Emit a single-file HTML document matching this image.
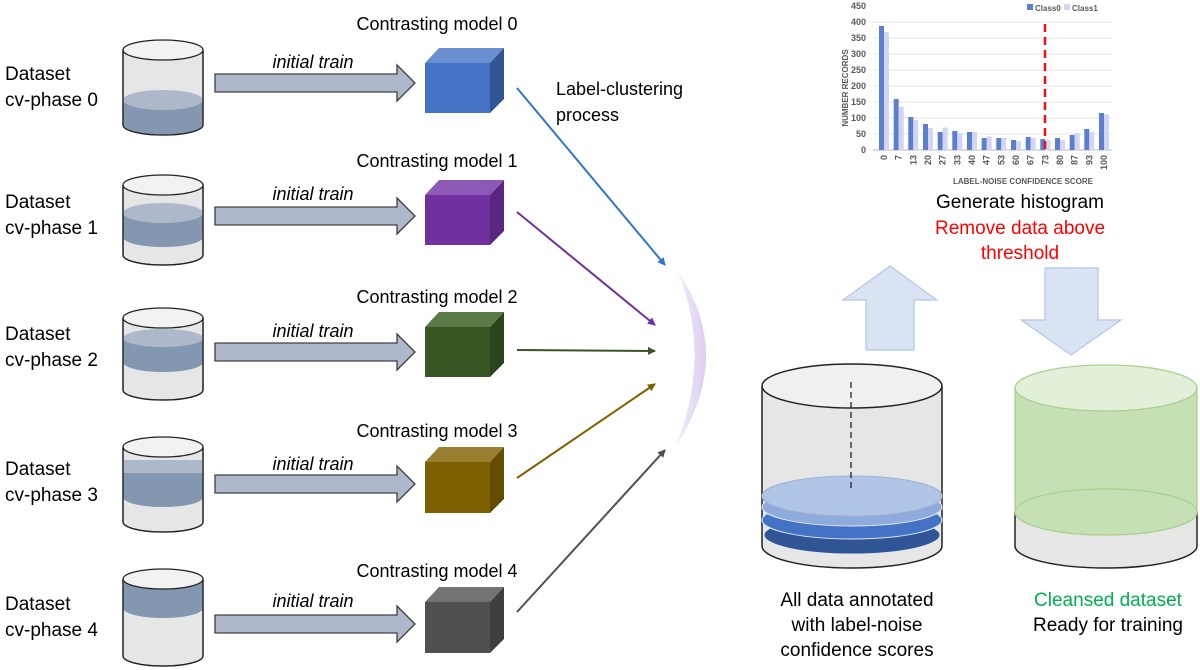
<!DOCTYPE html>
<html><head><meta charset="utf-8"><style>
body{margin:0;background:#fff}
svg{display:block;font-family:"Liberation Sans",Arial,sans-serif}
</style></head><body>
<svg width="1200" height="670" viewBox="0 0 1200 670" xmlns="http://www.w3.org/2000/svg">
<defs>
<marker id="mb" markerWidth="8" markerHeight="8" refX="7" refY="4" orient="auto" markerUnits="userSpaceOnUse"><path d="M0,0 L8,4 L0,8 z" fill="#2e75d0"/></marker>
<marker id="mp" markerWidth="8" markerHeight="8" refX="7" refY="4" orient="auto" markerUnits="userSpaceOnUse"><path d="M0,0 L8,4 L0,8 z" fill="#7030a0"/></marker>
<marker id="mg" markerWidth="8" markerHeight="8" refX="7" refY="4" orient="auto" markerUnits="userSpaceOnUse"><path d="M0,0 L8,4 L0,8 z" fill="#375623"/></marker>
<marker id="mo" markerWidth="8" markerHeight="8" refX="7" refY="4" orient="auto" markerUnits="userSpaceOnUse"><path d="M0,0 L8,4 L0,8 z" fill="#7f6000"/></marker>
<marker id="mk" markerWidth="8" markerHeight="8" refX="7" refY="4" orient="auto" markerUnits="userSpaceOnUse"><path d="M0,0 L8,4 L0,8 z" fill="#505050"/></marker>
<linearGradient id="cres" x1="0" y1="0" x2="1" y2="0"><stop offset="0" stop-color="#f3eefa"/><stop offset="1" stop-color="#dccdf0"/></linearGradient>
</defs>

<g font-size="19" fill="#000">
<text x="5" y="80">Dataset</text><text x="5" y="106">cv-phase 0</text>
<text x="5" y="208">Dataset</text><text x="5" y="234">cv-phase 1</text>
<text x="5" y="340">Dataset</text><text x="5" y="366">cv-phase 2</text>
<text x="5" y="475">Dataset</text><text x="5" y="501">cv-phase 3</text>
<text x="5" y="610">Dataset</text><text x="5" y="636">cv-phase 4</text>
</g>

<g stroke="#222" stroke-width="1.3">
<path d="M123,50 V125 A40,10 0 0 0 203,125 V50" fill="#e6e6e6"/>
<path d="M123,100 V125 A40,10 0 0 0 203,125 V100 z" fill="#8497b0" stroke="none"/>
<ellipse cx="163" cy="100" rx="40" ry="10" fill="#adb9ca" stroke="none"/>
<path d="M123,50 V125 A40,10 0 0 0 203,125 V50" fill="none"/>
<ellipse cx="163" cy="50" rx="40" ry="10" fill="#f2f2f2"/>

<path d="M123,185 V255 A40,10 0 0 0 203,255 V185" fill="#e6e6e6"/>
<path d="M123,213 V237 A40,10 0 0 0 203,237 V213 z" fill="#8497b0" stroke="none"/>
<ellipse cx="163" cy="213" rx="40" ry="10" fill="#adb9ca" stroke="none"/>
<path d="M123,185 V255 A40,10 0 0 0 203,255 V185" fill="none"/>
<ellipse cx="163" cy="185" rx="40" ry="10" fill="#f2f2f2"/>

<path d="M123,318 V390 A40,10 0 0 0 203,390 V318" fill="#e6e6e6"/>
<path d="M123,340 V362 A40,10 0 0 0 203,362 V340 z" fill="#8497b0" stroke="none"/>
<ellipse cx="163" cy="338" rx="40" ry="9" fill="#adb9ca" stroke="none"/>
<path d="M123,318 V390 A40,10 0 0 0 203,390 V318" fill="none"/>
<ellipse cx="163" cy="318" rx="40" ry="10" fill="#f2f2f2"/>

<path d="M123,447 V522 A40,10 0 0 0 203,522 V447" fill="#e6e6e6"/>
<path d="M123,460 V497 A40,10 0 0 0 203,497 V460 z" fill="#adb9ca" stroke="none"/>
<path d="M123,473 V497 A40,10 0 0 0 203,497 V473 z" fill="#8497b0" stroke="none"/>
<path d="M123,447 V522 A40,10 0 0 0 203,522 V447" fill="none"/>
<ellipse cx="163" cy="447" rx="40" ry="10" fill="#f2f2f2"/>

<path d="M123,579 V656 A40,10 0 0 0 203,656 V579" fill="#e6e6e6"/>
<path d="M123,582 V608 A40,10 0 0 0 203,608 V582 z" fill="#8497b0" stroke="none"/>
<path d="M123,579 V656 A40,10 0 0 0 203,656 V579" fill="none"/>
<ellipse cx="163" cy="579" rx="40" ry="10" fill="#f2f2f2"/>
</g>

<g fill="#adb9ca" stroke="#404040" stroke-width="1.3">
<path d="M215,74 H397 V65 L415,83 L397,101 V92 H215 z"/>
<path d="M215,207 H397 V198 L415,216 L397,234 V225 H215 z"/>
<path d="M215,343 H397 V334 L415,352 L397,370 V361 H215 z"/>
<path d="M215,475 H397 V466 L415,484 L397,502 V493 H215 z"/>
<path d="M215,615 H397 V606 L415,624 L397,642 V633 H215 z"/>
</g>
<g font-size="18" font-style="italic" text-anchor="middle">
<text x="313" y="68">initial train</text>
<text x="313" y="200">initial train</text>
<text x="313" y="337">initial train</text>
<text x="313" y="470">initial train</text>
<text x="313" y="607">initial train</text>
</g>

<g font-size="18" text-anchor="middle">
<text x="437" y="30">Contrasting model 0</text>
<text x="437" y="167">Contrasting model 1</text>
<text x="437" y="303">Contrasting model 2</text>
<text x="437" y="437">Contrasting model 3</text>
<text x="437" y="577">Contrasting model 4</text>
</g>

<g>
<rect x="425" y="63" width="65" height="50" fill="#4472c4"/><path d="M425,63 L439,48 H504 L490,63 z" fill="#6a8fd0"/><path d="M490,63 L504,48 V99 L490,113 z" fill="#2f5597"/>
<rect x="425" y="195" width="65" height="50" fill="#7030a0"/><path d="M425,195 L439,180 H504 L490,195 z" fill="#8c5ab4"/><path d="M490,195 L504,180 V231 L490,245 z" fill="#592680"/>
<rect x="425" y="327" width="65" height="50" fill="#375623"/><path d="M425,327 L439,312 H504 L490,327 z" fill="#5a7a48"/><path d="M490,327 L504,312 V363 L490,377 z" fill="#2b441b"/>
<rect x="425" y="462" width="65" height="51" fill="#7f6000"/><path d="M425,462 L439,447 H504 L490,462 z" fill="#9a7f30"/><path d="M490,462 L504,447 V499 L490,513 z" fill="#634b00"/>
<rect x="425" y="602" width="65" height="51" fill="#505050"/><path d="M425,602 L439,587 H504 L490,602 z" fill="#737373"/><path d="M490,602 L504,587 V639 L490,653 z" fill="#3f3f3f"/>
</g>

<g stroke-width="2" fill="none">
<line x1="517" y1="88" x2="665" y2="265" stroke="#2e75d0" marker-end="url(#mb)"/>
<line x1="517" y1="212" x2="655" y2="325" stroke="#7030a0" marker-end="url(#mp)"/>
<line x1="517" y1="350" x2="655" y2="351" stroke="#375623" marker-end="url(#mg)"/>
<line x1="517" y1="478" x2="655" y2="384" stroke="#7f6000" marker-end="url(#mo)"/>
<line x1="517" y1="612" x2="665" y2="450" stroke="#505050" marker-end="url(#mk)"/>
</g>
<path d="M678,272 Q735,355 676,446 Q712,355 678,272 z" fill="url(#cres)"/>
<text x="556" y="95" font-size="18">Label-clustering</text>
<text x="556" y="121" font-size="18">process</text>

<g font-size="9" font-weight="bold" fill="#595959" text-anchor="end">
<text x="866" y="153">0</text><text x="866" y="137">50</text><text x="866" y="121">100</text><text x="866" y="105">150</text><text x="866" y="89">200</text><text x="866" y="73">250</text><text x="866" y="57">300</text><text x="866" y="41">350</text><text x="866" y="25">400</text><text x="866" y="9">450</text>
</g>
<g stroke="#e4e4e4" stroke-width="1">
<line x1="873" y1="134" x2="1112" y2="134"/><line x1="873" y1="118" x2="1112" y2="118"/><line x1="873" y1="102" x2="1112" y2="102"/><line x1="873" y1="86" x2="1112" y2="86"/><line x1="873" y1="70" x2="1112" y2="70"/><line x1="873" y1="54" x2="1112" y2="54"/><line x1="873" y1="38" x2="1112" y2="38"/><line x1="873" y1="22" x2="1112" y2="22"/>
</g>
<line x1="873" y1="150" x2="1112" y2="150" stroke="#bbb"/>
<g fill="#5b7fce">
<rect x="879" y="26" width="5" height="124"/><rect x="893.7" y="99" width="5" height="51"/><rect x="908.3" y="117" width="5" height="33"/><rect x="923" y="124" width="5" height="26"/><rect x="937.7" y="132" width="5" height="18"/><rect x="952.3" y="131" width="5" height="19"/><rect x="967" y="132" width="5" height="18"/><rect x="981.7" y="138" width="5" height="12"/><rect x="996.3" y="138" width="5" height="12"/><rect x="1011" y="140" width="5" height="10"/><rect x="1025.7" y="137" width="5" height="13"/><rect x="1040.3" y="139" width="5" height="11"/><rect x="1055" y="138" width="5" height="12"/><rect x="1069.7" y="135" width="5" height="15"/><rect x="1084.3" y="129" width="5" height="21"/><rect x="1099" y="113" width="5" height="37"/>
</g>
<g fill="#d2d5f6">
<rect x="884" y="32" width="5" height="118"/><rect x="898.7" y="106.5" width="5" height="43.5"/><rect x="913.3" y="120" width="5" height="30"/><rect x="928" y="128" width="5" height="22"/><rect x="942.7" y="127.5" width="5" height="22.5"/><rect x="957.3" y="133" width="5" height="17"/><rect x="972" y="132" width="5" height="18"/><rect x="986.7" y="136.5" width="5" height="13.5"/><rect x="1001.3" y="138" width="5" height="12"/><rect x="1016" y="141" width="5" height="9"/><rect x="1030.7" y="138" width="5" height="12"/><rect x="1045.3" y="140" width="5" height="10"/><rect x="1060" y="140" width="5" height="10"/><rect x="1074.7" y="133" width="5" height="17"/><rect x="1089.3" y="132" width="5" height="18"/><rect x="1104" y="114.5" width="5" height="35.5"/>
</g>
<line x1="1045" y1="24" x2="1045" y2="150" stroke="#ee1111" stroke-width="2.5" stroke-dasharray="8,5"/>
<rect x="1027" y="4" width="6" height="6" fill="#5b7fce"/><text x="1035" y="11" font-size="8" font-weight="bold" fill="#595959">Class0</text>
<rect x="1064" y="4" width="6" height="6" fill="#d2d5f6"/><text x="1072" y="11" font-size="8" font-weight="bold" fill="#595959">Class1</text>
<text transform="translate(848,88) rotate(-90)" font-size="8" font-weight="bold" fill="#595959" text-anchor="middle">NUMBER RECORDS</text>
<g font-size="9" font-weight="bold" fill="#595959" text-anchor="end">
<text transform="translate(887,155) rotate(-90)">0</text><text transform="translate(901.7,155) rotate(-90)">7</text><text transform="translate(916.3,155) rotate(-90)">13</text><text transform="translate(931,155) rotate(-90)">20</text><text transform="translate(945.7,155) rotate(-90)">27</text><text transform="translate(960.3,155) rotate(-90)">33</text><text transform="translate(975,155) rotate(-90)">40</text><text transform="translate(989.7,155) rotate(-90)">47</text><text transform="translate(1004.3,155) rotate(-90)">53</text><text transform="translate(1019,155) rotate(-90)">60</text><text transform="translate(1033.7,155) rotate(-90)">67</text><text transform="translate(1048.3,155) rotate(-90)">73</text><text transform="translate(1063,155) rotate(-90)">80</text><text transform="translate(1077.7,155) rotate(-90)">87</text><text transform="translate(1092.3,155) rotate(-90)">93</text><text transform="translate(1107,155) rotate(-90)">100</text>
</g>
<text x="1023" y="184" font-size="8" font-weight="bold" fill="#595959" text-anchor="middle">LABEL-NOISE CONFIDENCE SCORE</text>

<g font-size="19" text-anchor="middle">
<text x="1020" y="208">Generate histogram</text>
<text x="1020" y="234" fill="#ff0000">Remove data above</text>
<text x="1020" y="259" fill="#ff0000">threshold</text>
</g>

<path d="M866,350 V300 H843 L890,266 L937,300 H914 V350 z" fill="#dae3f3" stroke="#b4c7e7" stroke-width="1.2"/>
<path d="M1045,268 H1098 V320 H1121 L1071,355 L1021,320 H1045 z" fill="#dae3f3" stroke="#b4c7e7" stroke-width="1.2"/>

<path d="M762,386 V546 A90,22 0 0 0 942,546 V386" fill="#e6e6e6" stroke="#222" stroke-width="1.5"/>
<ellipse cx="852" cy="535" rx="88" ry="19" fill="#2f5597" stroke="#dfe6f0"/>
<ellipse cx="852" cy="520" rx="90" ry="19" fill="#4472c4" stroke="#dfe6f0"/>
<ellipse cx="852" cy="507" rx="90" ry="19" fill="#8faadc" stroke="#dfe6f0"/>
<ellipse cx="852" cy="496" rx="90" ry="20" fill="#b0c4e6" stroke="#9fb2d3"/>
<ellipse cx="852" cy="386" rx="90" ry="22" fill="#f0f0f0" stroke="#222" stroke-width="1.5"/>
<line x1="851" y1="382" x2="851" y2="492" stroke="#222" stroke-width="1.3" stroke-dasharray="6,4"/>

<path d="M1015,512 V546 A91,22 0 0 0 1197,546 V512" fill="#e6e6e6" stroke="#222" stroke-width="1.5"/>
<path d="M1015,388 V512 A91,23 0 0 0 1197,512 V388 z" fill="#c5e0b4" stroke="#a9d18e" stroke-width="1.3"/>
<ellipse cx="1106" cy="512" rx="91" ry="23" fill="#c5e0b4" stroke="#a9d18e" stroke-width="1.3"/>
<ellipse cx="1106" cy="388" rx="91" ry="23" fill="#e2f0d9" stroke="#a9d18e" stroke-width="1.3"/>

<g font-size="19" text-anchor="middle">
<text x="857" y="606">All data annotated</text>
<text x="857" y="631">with label-noise</text>
<text x="857" y="656">confidence scores</text>
<text x="1108" y="606" fill="#00b050">Cleansed dataset</text>
<text x="1108" y="631">Ready for training</text>
</g>
</svg>
</body></html>
